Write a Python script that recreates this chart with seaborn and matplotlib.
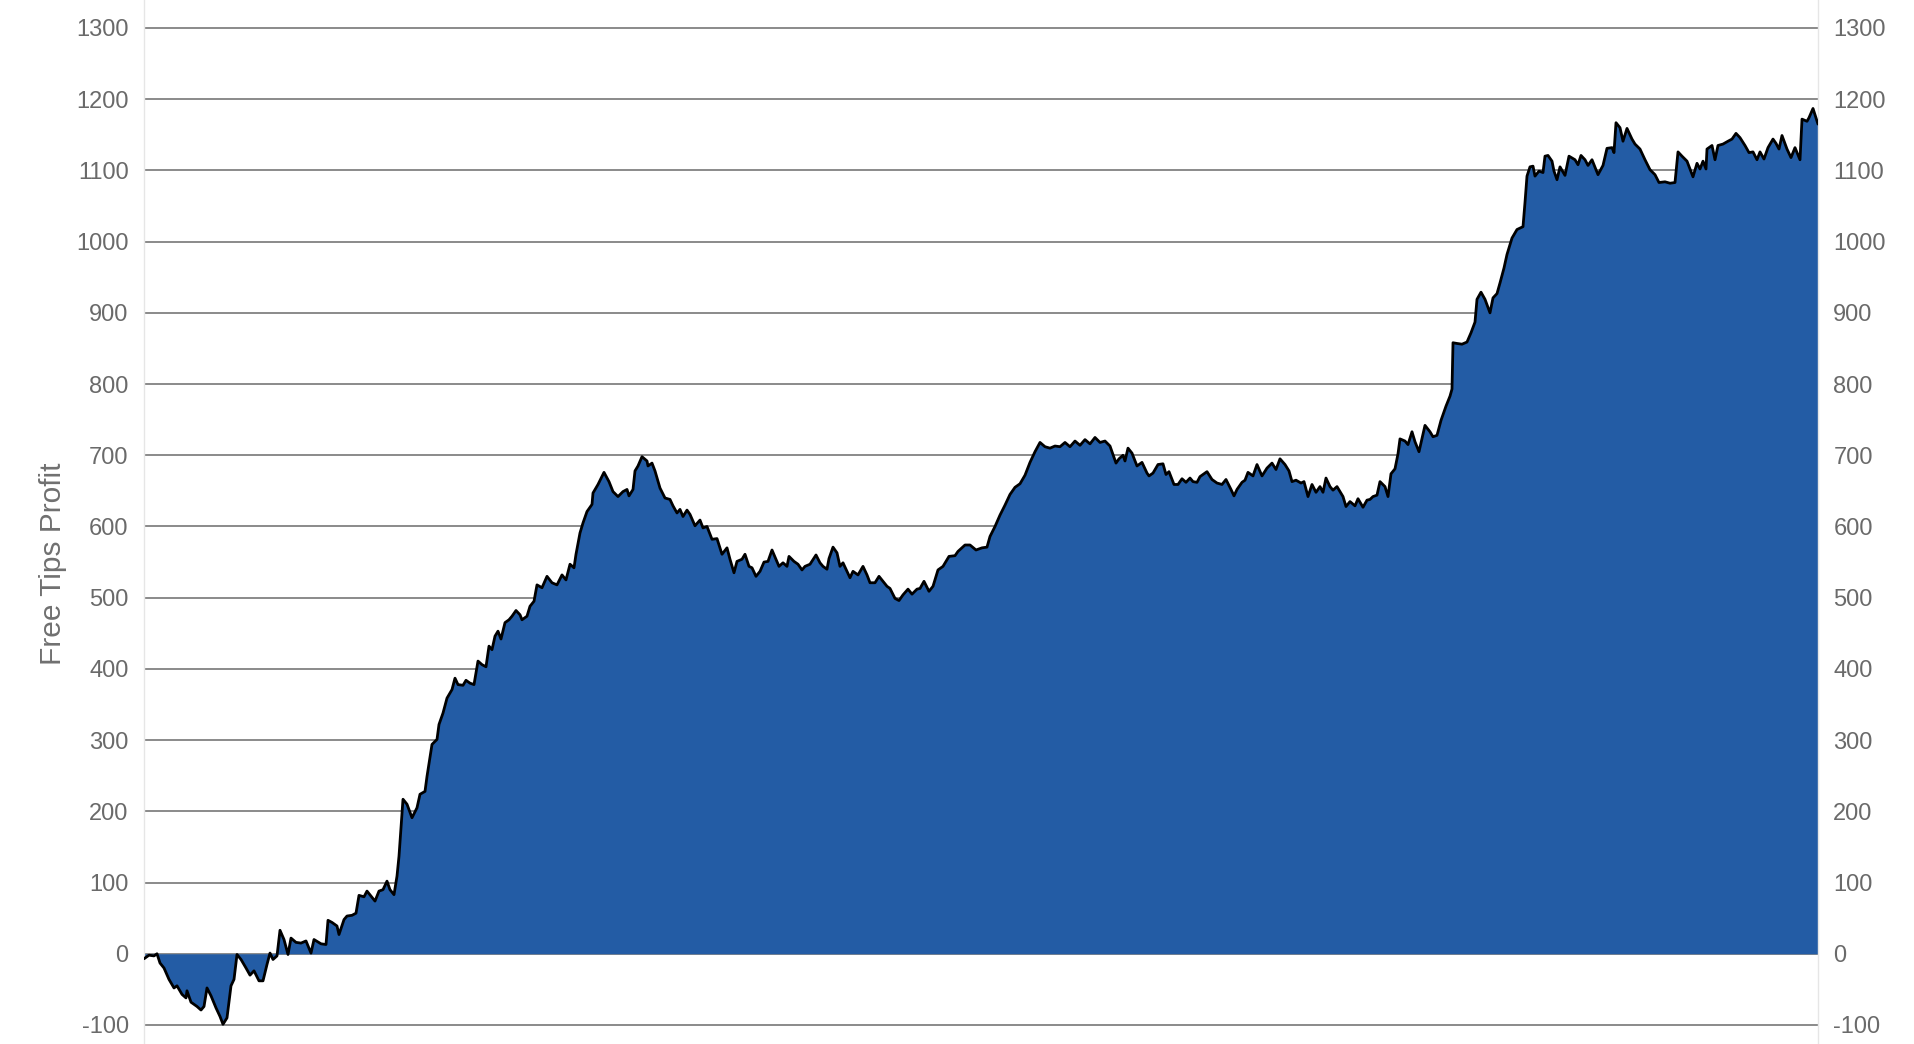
import numpy as np
import pandas as pd
import matplotlib
matplotlib.use("Agg")
import matplotlib.pyplot as plt
import seaborn as sns

# Cumulative profit of free tips
bet_no = [0, 5, 10, 13, 16, 20, 25, 30, 33, 38, 42, 43, 47, 53, 57, 60, 63, 67, 72, 76, 79, 83, 87, 90, 93, 97,
          102, 106, 110, 115, 119, 123, 126, 129, 133, 136, 140, 144, 147, 152, 157, 162, 165, 167, 170, 177, 182,
          184, 188, 193, 195, 200, 203, 208, 212, 215, 220, 223, 227, 231, 235, 239, 243, 246, 250, 253, 255,
          259, 263, 268, 273, 276, 281, 283, 288, 293, 295, 299, 303, 308, 311, 314, 319, 322, 326, 330, 334,
          338, 342, 345, 348, 351, 354, 357, 361, 365, 368, 372, 376, 378, 383, 386, 390, 393, 398, 403, 408,
          413, 418, 422, 426, 430, 432, 436, 439, 443, 448, 449, 454, 460, 465, 469, 474, 479, 483, 485, 489,
          491, 494, 498, 503, 504, 508, 511, 516, 521, 526, 529, 533, 536, 539, 543, 546, 551, 556, 559, 563,
          568, 573, 578, 583, 586, 590, 593, 598, 601, 605, 608, 612, 616, 620, 624, 628, 632, 635, 639, 643,
          645, 650, 654, 658, 661, 666, 672, 676, 679, 683, 685, 689, 693, 696, 699, 706, 709, 714, 719, 723,
          726, 731, 735, 739, 743, 746, 751, 755, 759, 764, 768, 773, 776, 780, 785, 789, 794, 799, 805, 811,
          814, 821, 826, 832, 838, 843, 846, 851, 856, 861, 866, 871, 876, 881, 886, 891, 896, 901, 906, 911,
          916, 921, 926, 931, 936, 941, 946, 951, 956, 961, 966, 972, 975, 979, 981, 984, 988, 993, 998, 1003,
          1005, 1009, 1014, 1019, 1022, 1025, 1030, 1034, 1038, 1042, 1046, 1049, 1053, 1056, 1063, 1068, 1073,
          1078, 1082, 1087, 1090, 1093, 1098, 1101, 1104, 1109, 1113, 1118, 1123, 1128, 1132, 1136, 1141, 1145,
          1148, 1152, 1157, 1160, 1164, 1168, 1172, 1176, 1179, 1182, 1186, 1189, 1193, 1199, 1202, 1206, 1211,
          1214, 1219, 1223, 1226, 1229, 1233, 1236, 1241, 1244, 1247, 1251, 1254, 1256, 1261, 1264, 1268, 1271,
          1275, 1281, 1286, 1289, 1293, 1297, 1302, 1306, 1308, 1309, 1313, 1318, 1323, 1327, 1331, 1333, 1337,
          1341, 1346, 1349, 1353, 1356, 1360, 1363, 1368, 1373, 1379, 1381, 1383, 1386, 1389, 1391, 1395, 1399,
          1401, 1404, 1408, 1410, 1413, 1416, 1421, 1425, 1431, 1434, 1437, 1441, 1444, 1448, 1454, 1459, 1463,
          1468, 1470, 1472, 1476, 1479, 1483, 1488, 1491, 1496, 1501, 1506, 1511, 1515, 1521, 1526, 1531, 1534,
          1538, 1543, 1549, 1553, 1556, 1559, 1562, 1563, 1568, 1571, 1574, 1579, 1584, 1588, 1592, 1596, 1601,
          1605, 1609, 1613, 1616, 1620, 1624, 1629, 1632, 1635, 1638, 1643, 1647, 1651, 1656, 1658, 1663, 1665,
          1669, 1674]

profit = [-7, -2, -3, 0, -13, -20, -36, -48, -45, -57, -62, -52, -68, -74, -79, -74, -48, -59, -76, -88, -99, -90,
          -45, -36, -1, -8, -20, -30, -24, -38, -38, -15, 1, -8, -3, 33, 20, -1, 22, 16, 15, 18, 8, 1, 20, 14, 13,
          47, 44, 39, 27, 48, 53, 54, 57, 82, 80, 88, 81, 74, 88, 90, 102, 90, 83, 109, 137,
          217, 210, 191, 205, 224, 228, 249, 294, 301, 322, 338, 359, 371, 387, 378, 377, 384, 380, 378, 411,
          406, 403, 432, 427, 446, 453, 442, 465, 469, 474, 482, 476, 469, 474, 488, 495, 518, 514, 530, 521,
          518, 532, 525, 547, 542, 561, 591, 605, 621, 631, 647, 659, 676, 663, 649, 642, 649, 652, 643, 652,
          678, 685, 698, 692, 685, 689, 678, 654, 640, 638, 629, 619, 624, 614, 623, 617, 601, 609, 598, 600,
          582, 583, 561, 570, 554, 535, 551, 554, 561, 544, 542, 530, 537, 550, 551, 567, 554, 544, 549, 544,
          558, 551, 547, 539, 544, 547, 560, 549, 544, 540, 555, 571, 563, 544, 549, 528, 537, 532, 544, 532,
          521, 521, 530, 523, 516, 513, 499, 496, 504, 512, 505, 512, 513, 523, 509, 516, 539, 544, 558, 559,
          565, 574, 574, 567, 570, 571, 586, 600, 616, 630, 645, 655, 660, 672, 690, 705, 718, 712, 710, 713,
          712, 718, 712, 720, 714, 722, 716, 725, 718, 720, 713, 689, 695, 700, 692, 710, 703, 685, 690, 675,
          671, 675, 687, 688, 673, 677, 659, 659, 667, 662, 668, 663, 662, 670, 677, 666, 661,
          659, 666, 652, 643, 652, 662, 665, 676, 671, 687, 671, 682, 689, 680, 695, 687, 678,
          663, 665, 661, 663, 642, 659, 648, 656, 648, 668, 656, 651, 656, 642, 628, 635, 629,
          639, 627, 637, 638, 642, 644, 663, 656, 642, 674, 681, 702, 723, 720, 715, 733, 719,
          705, 742, 733, 726, 728, 749, 769, 783, 793, 858, 857, 856, 859, 872, 887, 919, 929,
          919, 900, 921, 927, 942, 963, 982, 1005, 1017, 1021, 1055, 1092, 1105, 1106, 1092, 1099, 1097,
          1120, 1121, 1113, 1099, 1087, 1105, 1093, 1120, 1115, 1108, 1121, 1115, 1107, 1115, 1094, 1107, 1131,
          1132, 1125, 1167, 1160, 1141, 1159, 1144, 1137, 1130, 1115, 1101, 1094, 1083, 1084, 1082, 1083, 1126,
          1120, 1113, 1091, 1110, 1102, 1113, 1102, 1130, 1135, 1115, 1135, 1137, 1141, 1144, 1152, 1146, 1135,
          1125, 1126, 1115, 1126, 1116, 1132, 1144, 1138, 1130, 1149, 1130, 1118, 1132, 1115, 1172, 1169, 1174,
          1187, 1165]

y_ticks = list(range(-100, 1301, 100))

df = pd.DataFrame({"bet": bet_no, "profit": profit})

sns.set_style("white")
plt.rcParams["font.family"] = ["Liberation Sans", "DejaVu Sans"]

fig = plt.figure(figsize=(19.14, 10.44), dpi=100)
ax = fig.add_axes([144 / 1914, 0, 1674 / 1914, 1])

# blue area down to zero, black outline on top
ax.fill_between(df.bet, df.profit, 0, color="#235ca5", linewidth=0, zorder=2)
sns.lineplot(data=df, x="bet", y="profit", color="black", linewidth=2.0, ax=ax, zorder=3)

ax.set_xlim(df.bet.min(), df.bet.max())
ax.set_ylim(-126.7, 1339.3)
ax.set_yticks(y_ticks)
ax.set_yticklabels([str(t) for t in y_ticks])
ax.set_xticks([])
ax.set_xlabel("")
ax.set_ylabel("Free Tips Profit", fontsize=21.5, color="#707070")
ax.yaxis.set_label_coords(-0.046, 0.46)

ax.yaxis.grid(True, color="#8a8a8a", linewidth=1.4, zorder=1)
ax.set_axisbelow(True)
ax.tick_params(axis="y", length=0, labelsize=17, labelcolor="#6a6a6a", pad=11,
               labelleft=True, labelright=True)

for side in ["top", "bottom"]:
    ax.spines[side].set_visible(False)
for side in ["left", "right"]:
    ax.spines[side].set_color("#e6e6e6")
    ax.spines[side].set_linewidth(1)

fig.savefig("out.png", dpi=100)
